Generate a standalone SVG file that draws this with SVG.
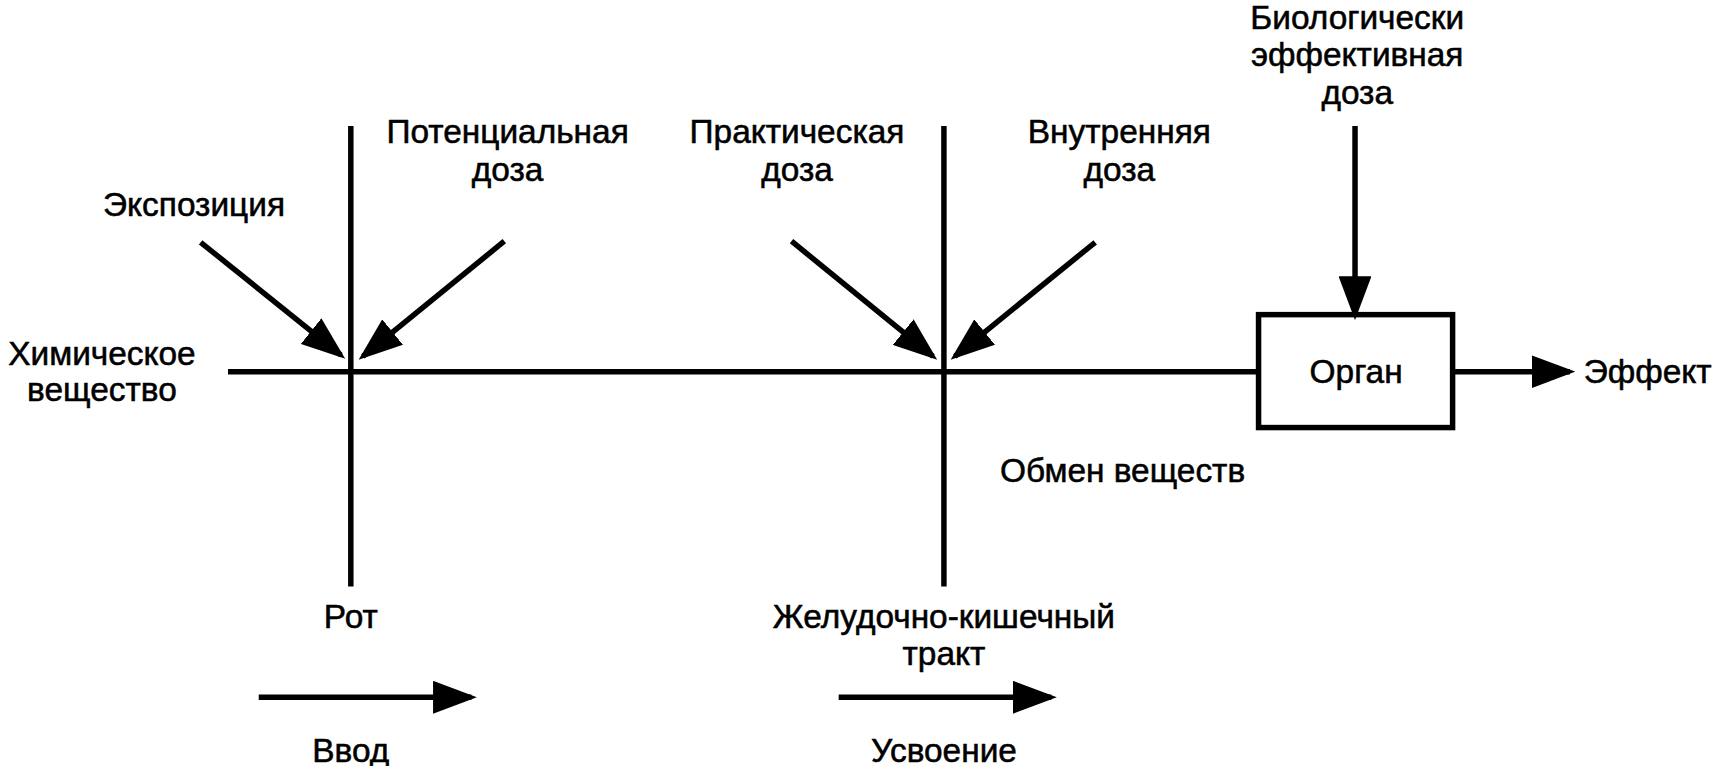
<svg xmlns="http://www.w3.org/2000/svg" width="1719" height="766" viewBox="0 0 1719 766">
<style>
text{font-family:"Liberation Sans",Arial,sans-serif;font-size:30.5px;fill:#000;stroke:#000;stroke-width:0.5;text-anchor:middle}
.l{stroke:#000;stroke-width:5;fill:none}
</style>
<defs>
<marker id="a" markerWidth="8" markerHeight="6" refX="7" refY="3" orient="auto" markerUnits="strokeWidth">
<path d="M0,0 L8,3 L0,6 Z" fill="#000"/>
</marker>
</defs>
<rect width="1719" height="766" fill="#fff"/>
<g transform="scale(1.0963)">
<g id="connectors">
<line class="l" x1="208" y1="339" x2="1148" y2="339"/>
<line class="l" x1="320" y1="115" x2="320" y2="535"/>
<line class="l" x1="861" y1="115" x2="861" y2="535"/>
<line class="l" x1="183" y1="221" x2="311" y2="324" marker-end="url(#a)"/>
<line class="l" x1="460" y1="220" x2="331" y2="325" marker-end="url(#a)"/>
<line class="l" x1="722" y1="220" x2="851" y2="325" marker-end="url(#a)"/>
<line class="l" x1="999" y1="221" x2="871" y2="325" marker-end="url(#a)"/>
<line class="l" x1="1236" y1="115" x2="1236" y2="287" marker-end="url(#a)"/>
<line class="l" x1="1325" y1="339" x2="1432" y2="339" marker-end="url(#a)"/>
<line class="l" x1="236" y1="636" x2="430" y2="636" marker-end="url(#a)"/>
<line class="l" x1="765" y1="636" x2="959" y2="636" marker-end="url(#a)"/>
</g>
<g id="organ"><rect class="l" x="1148" y="287" width="177" height="103"/><text x="1237" y="349">Орган</text></g>
<g id="chem"><text x="93" y="333">Химическое</text><text x="93" y="366">вещество</text></g>
<g id="expo"><text x="177" y="197">Экспозиция</text></g>
<g id="pot"><text x="463" y="130">Потенциальная</text><text x="463" y="165">доза</text></g>
<g id="prak"><text x="727" y="130">Практическая</text><text x="727" y="165">доза</text></g>
<g id="vnutr"><text x="1021" y="130">Внутренняя</text><text x="1021" y="165">доза</text></g>
<g id="bio"><text x="1238" y="26">Биологически</text><text x="1238" y="60">эффективная</text><text x="1238" y="95">доза</text></g>
<g id="effect"><text x="1503" y="349">Эффект</text></g>
<g id="obmen"><text x="1024" y="440">Обмен веществ</text></g>
<g id="rot"><text x="320" y="573">Рот</text></g>
<g id="zkt"><text x="861" y="573">Желудочно-кишечный</text><text x="861" y="607">тракт</text></g>
<g id="vvod"><text x="320" y="695">Ввод</text></g>
<g id="usv"><text x="861" y="695">Усвоение</text></g>
</g>
</svg>
